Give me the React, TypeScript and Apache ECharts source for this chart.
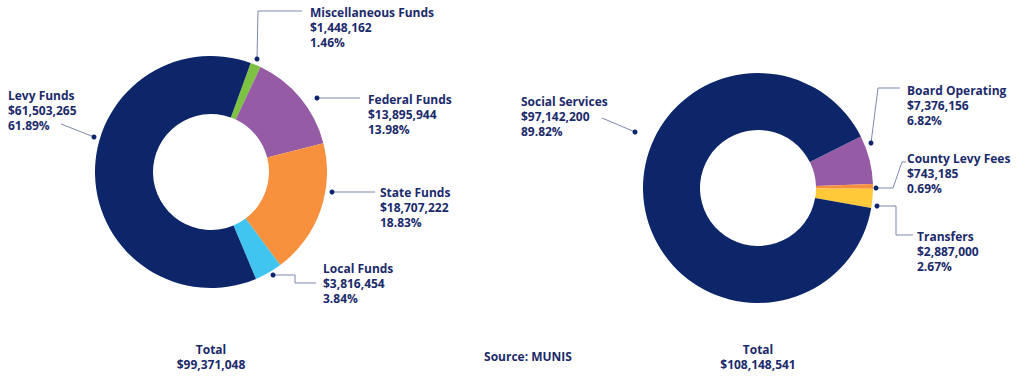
import React, { useEffect, useRef } from "react";
import * as echarts from "echarts";

const fundNames = ["Miscellaneous Funds", "Federal Funds", "State Funds", "Local Funds", "Levy Funds"];
const fundValues = [1448162, 13895944, 18707222, 3816454, 61503265];
const fundTotal = 99371048;

const spendNames = ["Board Operating", "County Levy Fees", "Transfers", "Social Services"];
const spendValues = [7376156, 743185, 2887000, 97142200];
const spendTotal = 108148541;

const sourceText = "Source: MUNIS";

const fundColors = ["#7dc242", "#955ba5", "#f7913d", "#40c4f0", "#0c2669"];
const spendColors = ["#955ba5", "#f7913d", "#ffc93a", "#0c2669"];

const TEXT = "#1b2a6b";
const LINE = "#7d87b0";
const FONT = "'Open Sans', sans-serif";

// label anchors [x, firstLineCenterY]
const fundLabelPos = [[310, 12], [368, 99], [380, 192], [323, 268], [8, 95]];
const spendLabelPos = [[907, 90], [907, 158], [917, 236], [521, 101]];

const fundLeaders = [
  [[257, 59], [258, 11], [302, 11]],
  [[317, 98], [360, 98]],
  [[332, 192], [375, 192]],
  [[273, 275], [295, 275], [295, 283], [316, 283]],
  [[94, 137], [61, 124]],
];
const spendLeaders = [
  [[871, 143], [878, 88], [900, 88]],
  [[876, 188], [893, 188], [902, 162], [906, 162]],
  [[877, 206], [896, 206], [896, 235], [913, 235]],
  [[635, 132], [602, 118]],
];

const fmt = (v: number) => "$" + v.toLocaleString("en-US");

function buildData(names: string[], values: number[], colors: string[]) {
  const sum = values.reduce((a, b) => a + b, 0);
  return names.map((n, i) => ({
    name: n,
    value: values[i],
    pct: ((values[i] / sum) * 100).toFixed(2) + "%",
    itemStyle: { color: colors[i] },
  }));
}

export default function App() {
  const ref = useRef<HTMLDivElement>(null);
  useEffect(() => {
    if (!ref.current) return;
    const chart = echarts.init(ref.current, null, { renderer: "svg" });
    const fundData = buildData(fundNames, fundValues, fundColors);
    const spendData = buildData(spendNames, spendValues, spendColors);
    const labelStyle = {
      show: true,
      color: TEXT,
      fontFamily: FONT,
      fontWeight: "bold" as const,
      fontSize: 12,
      lineHeight: 15,
      align: "left" as const,
      formatter: (p: any) => `${p.name}\n${fmt(p.value)}\n${p.data.pct}`,
    };
    const layoutFor = (pos: number[][]) => (params: any) => {
      const pt = pos[params.dataIndex];
      return { x: pt[0], y: pt[1] - 7.5, align: "left", verticalAlign: "top" };
    };
    const graphics: any[] = [];
    [...fundLeaders, ...spendLeaders].forEach((pts) => {
      graphics.push({
        type: "polyline",
        shape: { points: pts },
        style: { stroke: LINE, fill: null, lineWidth: 1 },
        silent: true,
      });
      graphics.push({
        type: "circle",
        shape: { cx: pts[0][0], cy: pts[0][1], r: 2.5 },
        style: { fill: "#0c2669" },
        silent: true,
      });
    });
    const textStyle = (t: string, x: number, y: number) => ({
      type: "text",
      x,
      y,
      style: {
        text: t,
        fill: TEXT,
        font: `bold 12px ${FONT}`,
        align: "center",
        verticalAlign: "middle",
      },
    });
    graphics.push(textStyle("Total", 211, 349));
    graphics.push(textStyle(fmt(fundTotal), 211, 364));
    graphics.push(textStyle("Total", 758, 349));
    graphics.push(textStyle(fmt(spendTotal), 758, 364));
    graphics.push(textStyle(sourceText, 528, 356));

    chart.setOption({
      animation: false,
      graphic: graphics,
      series: [
        {
          type: "pie",
          center: [211, 172],
          radius: [58, 116],
          startAngle: 70,
          clockwise: true,
          avoidLabelOverlap: false,
          data: fundData,
          label: labelStyle,
          labelLine: { show: false },
          labelLayout: layoutFor(fundLabelPos),
          emphasis: { disabled: true },
        },
        {
          type: "pie",
          center: [758, 188],
          radius: [58, 115],
          startAngle: 26.6,
          clockwise: true,
          avoidLabelOverlap: false,
          data: spendData,
          label: labelStyle,
          labelLine: { show: false },
          labelLayout: layoutFor(spendLabelPos),
          emphasis: { disabled: true },
        },
      ],
    });
    return () => chart.dispose();
  }, []);
  return (
    <div
      ref={ref}
      style={{ position: "absolute", left: 0, top: 0, width: 1024, height: 379, background: "#fff" }}
    />
  );
}
